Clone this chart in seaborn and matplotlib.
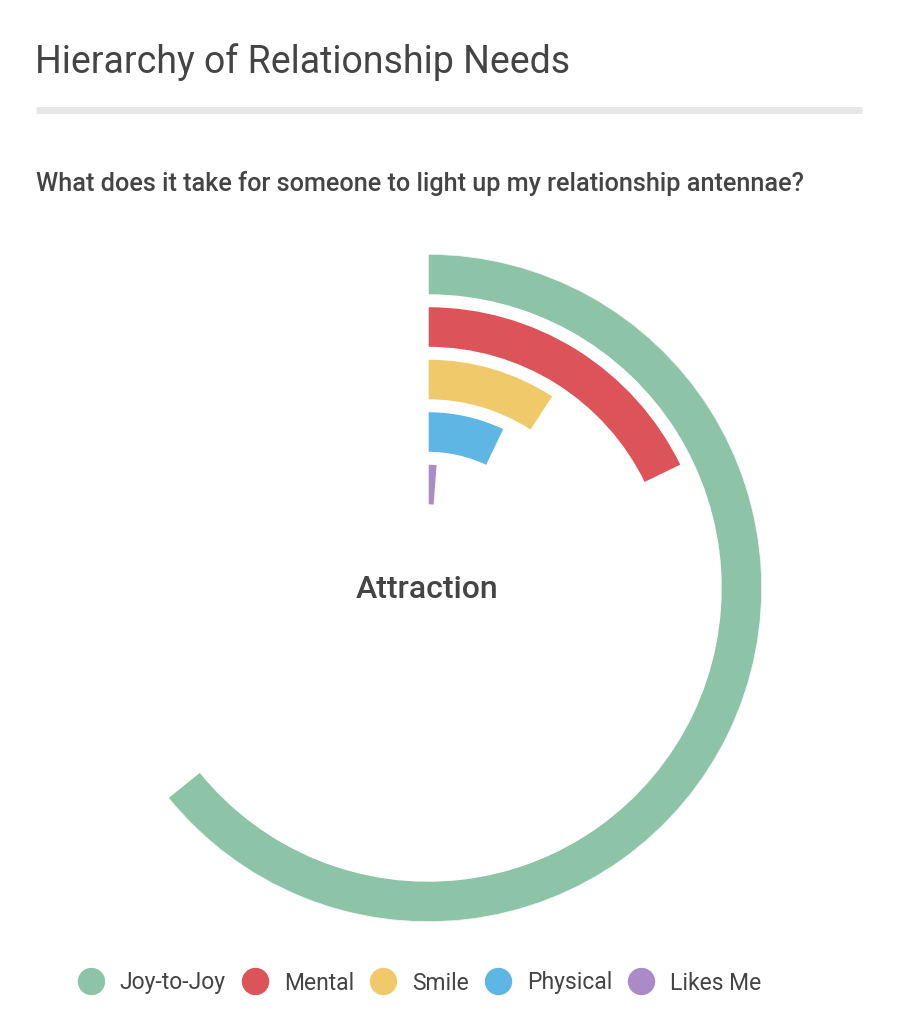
import numpy as np
import pandas as pd
import matplotlib.pyplot as plt
from matplotlib.lines import Line2D
import seaborn as sns

# data: share of the full circle (%) each need sweeps
categories = ['Joy-to-Joy', 'Mental', 'Smile', 'Physical', 'Likes Me']
values = [64.2, 17.8, 9.2, 7.1, 1.2]
colors = ['#8dc3a7', '#dc5459', '#f0c96b', '#5eb6e4', '#a98bc7']

sns.set_theme(style='white')
plt.rcParams['font.family'] = ['Roboto', 'DejaVu Sans']

df = pd.DataFrame({'need': categories, 'value': values})
df['theta'] = df['value'] / 100 * 2 * np.pi

W, H = 897, 1024
fig = plt.figure(figsize=(W / 100, H / 100), dpi=100)
fig.patch.set_facecolor('white')

# polar axes centred on the ring
cx, cy, R = 428, 588, 334
ax = fig.add_axes([(cx - R) / W, (H - cy - R) / H, 2 * R / W, 2 * R / H],
                  projection='polar')
ax.set_theta_zero_location('N')
ax.set_theta_direction(-1)

# innermost first so Joy-to-Joy lands on the outside
order = categories[::-1]
sns.barplot(data=df, x='theta', y='need', order=order,
            hue='need', hue_order=categories, palette=colors,
            orient='h', width=0.78, dodge=False, legend=False,
            saturation=1, ax=ax)

ax.set_xlim(0, 2 * np.pi)
ax.set_ylim(-1.97, 4.39)
ax.set_axis_off()

text_col = '#444444'

# header
fig.text(35 / W, 1 - 73 / H, 'Hierarchy of Relationship Needs',
         fontsize=27, color=text_col, va='baseline', ha='left')
fig.add_artist(Line2D([36 / W, 862 / W], [1 - 109.5 / H] * 2,
                      transform=fig.transFigure, color='#e6e6e6',
                      lw=5, solid_capstyle='butt'))
fig.text(36 / W, 1 - 191 / H,
         'What does it take for someone to light up my relationship antennae?',
         fontsize=18.2, weight='medium', color=text_col, va='baseline', ha='left')

# centre label
fig.text(427 / W, 1 - 598 / H, 'Attraction', fontsize=23, weight='medium',
         color=text_col, va='baseline', ha='center')

# legend
handles = [Line2D([0], [0], marker='o', linestyle='', markersize=18.7,
                  markerfacecolor=c, markeredgecolor=c, label=lab)
           for lab, c in zip(categories, colors)]
leg = fig.legend(handles=handles, loc='center', ncol=5,
                 bbox_to_anchor=(419.5 / W, 1 - 983 / H),
                 frameon=False, fontsize=16.5, handlelength=1.13,
                 handletextpad=0.7, columnspacing=0.7, borderpad=0)
for t in leg.get_texts():
    t.set_color(text_col)

fig.savefig('out.png', dpi=100, facecolor='white')
